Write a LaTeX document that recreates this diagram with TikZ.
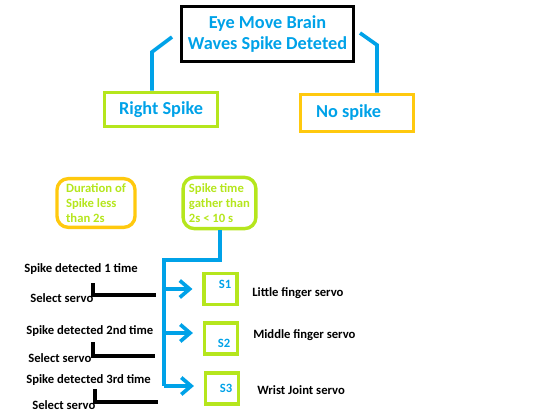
\documentclass[tikz,border=0pt]{standalone}
\usepackage{fontspec}
\setmainfont{Carlito}
\usetikzlibrary{positioning, arrows.meta}
\definecolor{paintblue}{HTML}{00A2E8}
\definecolor{paintgreen}{HTML}{B5E61D}
\definecolor{paintyellow}{HTML}{FFC90E}

\begin{document}
\begin{tikzpicture}[
    x=0.025cm, y=-0.025cm,
    bigbox/.style={draw, line width=2.6pt, text=paintblue, font=\fontsize{13}{14.5}\selectfont\bfseries, align=center},
    roundbox/.style={draw, line width=2.4pt, rounded corners=8pt, text=paintgreen, font=\fontsize{9}{10.8}\selectfont\bfseries, align=left},
    sbox/.style={draw=paintgreen, line width=2.6pt, minimum width=0.82cm, minimum height=0.78cm},
    small/.style={font=\fontsize{9}{10}\selectfont\bfseries, inner sep=0pt},
    bline/.style={draw=paintblue, line width=2.6pt},
    kline/.style={draw=black, line width=2.4pt}
    ]
\useasboundingbox (0,0) rectangle (553,420);

% top part
\node[bigbox, minimum width=4.3cm, minimum height=1.38cm] (top) at (267.5,34) {Eye Move Brain\\Waves Spike Deteted};
\node[bigbox, draw=paintgreen, minimum width=2.82cm, minimum height=0.85cm] (right) at (161,109.5) {Right Spike};
\node[bigbox, draw=paintyellow, minimum width=2.82cm, minimum height=0.93cm] (nospike) at (357,113) {\hspace*{-12pt}No spike};
\coordinate (l1) at (172,37);
\coordinate (l2) at (152,52);
\coordinate (r1) at (360,33);
\coordinate (r2) at (377,45);
\draw[bline] (l1) -- (l2) -- (l2 |- right.north);
\draw[bline] (r1) -- (r2) -- (r2 |- nospike.north);

% the two conditions
\node[roundbox, draw=paintyellow, minimum width=1.95cm, minimum height=1.18cm] (duration) at (96,203) {Duration of\\Spike less\\than 2s};
\node[roundbox, draw=paintgreen, minimum width=1.82cm, minimum height=1.28cm] (gather) at (219.5,203) {Spike time\\gather than\\2s < 10 s};

% servos
\node[sbox] (s1) at (220.5,289) {};
\node[sbox] (s2) at (221,338.5) {};
\node[sbox] (s3) at (222,388.5) {};
\node[small, text=paintblue] (t1) at (225,284) {S1};
\node[small, text=paintblue] (t2) at (224,343) {S2};
\node[small, text=paintblue] (t3) at (226,388) {S3};
\node[small, anchor=west] (n1) at (252,293) {Little finger servo};
\node[small, anchor=west] (n2) at (253,335) {Middle finger servo};
\node[small, anchor=west] (n3) at (257,390) {Wrist Joint servo};

% blue tree with arrows
\coordinate (j1) at (220,260);
\coordinate (j2) at (164,260);
\coordinate (j3) at (164,386);
\draw[bline] (gather.south -| j1) -- (j1) -- (j2) -- (j3);
\draw[bline, -{Straight Barb[length=7pt, width=12pt]}] (164,289) -- ([xshift=-7pt]s1.west |- 0,289);
\draw[bline, -{Straight Barb[length=7pt, width=12pt]}] (164,333) -- ([xshift=-7pt]s2.west |- 0,333);
\draw[bline, -{Straight Barb[length=7pt, width=12pt]}] (j3) -- ([xshift=-7pt]s3.west |- 0,386);

% left labels
\node[small, anchor=west] (d1) at (24,269) {Spike detected 1 time};
\node[small, anchor=west] (e1) at (30,298) {Select servo};
\node[small, anchor=west] (d2) at (26,331) {Spike detected 2nd time};
\node[small, anchor=west] (e2) at (28,358) {Select servo};
\node[small, anchor=west] (d3) at (26,380) {Spike detected 3rd time};
\node[small, anchor=west] (e3) at (32,405) {Select servo};
\draw[kline] (93,283) -- (93,295) -- (156,295);
\draw[kline] (93,342) -- (93,356) -- (155,356);
\draw[kline] (95,389) -- (95,402) -- (158,402);
\end{tikzpicture}
\end{document}
